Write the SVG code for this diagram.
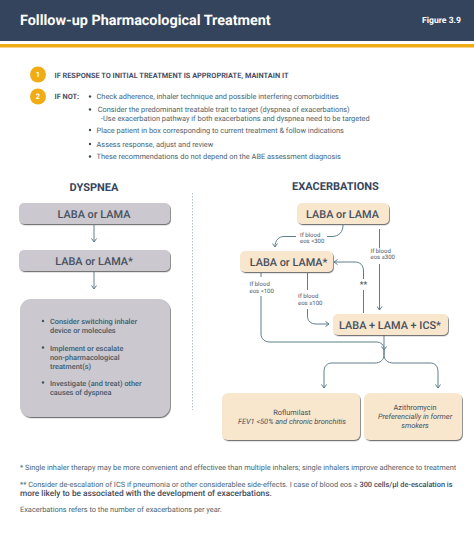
<svg xmlns="http://www.w3.org/2000/svg" width="474" height="533" viewBox="0 0 474 533">
<style>
text{font-family:Roboto,"Liberation Sans",sans-serif;fill:#44505f;text-rendering:geometricPrecision}
.h{font-size:11px;font-weight:700;fill:#34445c}
.n{font-size:10.9px;font-weight:500;fill:#46505e;text-anchor:middle}
.l{font-size:6px;fill:#4a5563}
.s{font-size:7.35px;font-weight:500;fill:#3e5a68}
.f{font-size:7.4px;fill:#4b6570}
.g{font-size:7.4px;fill:#4b6570}
.d{font-size:7.4px;fill:#46505e;text-anchor:middle}
.gray{fill:#cbc8d0;filter:url(#sh)}
.peach{fill:#f8e6cd;filter:url(#sh)}
.c{fill:none;stroke:#5d7f8c;stroke-width:1;marker-end:url(#ar)}
.p{fill:none;stroke:#5d7f8c;stroke-width:1}
</style>
<defs>
<filter id="sh" x="-10%" y="-20%" width="120%" height="150%"><feDropShadow dx="0.8" dy="1.2" stdDeviation="0.7" flood-color="#555" flood-opacity="0.8"/></filter>
<marker id="ar" markerWidth="6" markerHeight="6" refX="4.5" refY="3" orient="auto" markerUnits="userSpaceOnUse"><path d="M1 0.5 L4.5 3 L1 5.5" fill="none" stroke="#5d7f8c" stroke-width="1"/></marker>
</defs>
<g id="header">
<rect width="474" height="41" fill="#34445c"/>
<rect y="44" width="474" height="3.5" fill="#f0ab15"/>
<text x="20" y="25" font-size="14.4" font-weight="700" style="fill:#fff">Folllow-up Pharmacological Treatment</text>
<text x="461" y="22.500" font-size="8.6" font-weight="700" text-anchor="end" style="fill:#fff">Figure 3.9</text>
</g>
<g id="steps">
<circle cx="38" cy="74.500" r="8" fill="#f0ab15"/><text x="38" y="77.300" font-size="7.500" font-weight="700" text-anchor="middle" style="fill:#fff">1</text>
<circle cx="38" cy="96.500" r="8" fill="#f0ab15"/><text x="38" y="99.300" font-size="7.500" font-weight="700" text-anchor="middle" style="fill:#fff">2</text>
<text x="54.500" y="77.500" font-size="7.360" font-weight="700" style="fill:#4a5066">IF RESPONSE TO INITIAL TREATMENT IS APPROPRIATE, MAINTAIN IT</text>
<text x="54.500" y="99" font-size="7.360" font-weight="700" style="fill:#4a5066">IF NOT:</text>
<g fill="#3c4a58">
<circle cx="90" cy="96.500" r="1.200"/><circle cx="90" cy="109.500" r="1.200"/><circle cx="90" cy="130" r="1.200"/><circle cx="90" cy="144" r="1.200"/><circle cx="90" cy="156.500" r="1.200"/>
</g>
<text class="f" x="96.500" y="98.800">Check adherence, inhaler technique and possible interfering comorbidities</text>
<text class="f" x="97.700" y="112">Consider the predominant treatable trait to target (dyspnea of exacerbations)</text>
<text class="f" x="101" y="121">-Use exacerbation pathway if both exacerbations and dyspnea need to be targeted</text>
<text class="f" x="96.500" y="132.700">Place patient in box corresponding to current treatment &amp; follow indications</text>
<text class="f" x="96.500" y="146.700">Assess response, adjust and review</text>
<text class="f" x="96.500" y="159.300">These recommendations do not depend on the ABE assessment diagnosis</text>
</g>
<text class="h" x="94" y="190.500" text-anchor="middle">DYSPNEA</text>
<text class="h" x="335.500" y="190" text-anchor="middle">EXACERBATIONS</text>
<line x1="192.500" y1="193" x2="192.500" y2="410" stroke="#9fb0b5" stroke-width="0.800" stroke-dasharray="1.500 1.500"/>
<g id="connectors">
<path class="c" d="M94 225V242"/>
<path class="c" d="M94 272V289"/>
<path class="p" d="M343 225C343 232 339 236.500 332 236.500H327"/>
<path class="c" d="M296 236.500H284C279 236.500 275 240 275 247"/>
<path class="p" d="M379.500 229V248"/>
<path class="c" d="M379.500 264V310"/>
<path class="p" d="M363.500 313V290"/>
<path class="c" d="M363.500 279V271C363.500 265 360 262 355 262H334"/>
<path class="p" d="M261 273V277"/>
<path class="p" d="M261 296V334C261 339 265 342 270 342H376C381 342 384 345 384 349"/>
<path class="p" d="M307.500 273V290"/>
<path class="c" d="M307.500 309V316C307.500 321 311 324 316 324H329"/>
<path class="c" d="M384 335V350"/>
<path class="c" d="M384 350V355C384 360 380 363 375 363H332C327 363 324 366 324 372V388"/>
<path class="c" d="M384 350V355C384 360 388 363 393 363H430C435 363 438 366 438 372V388"/>
</g>
<g id="node-dyspnea-1"><rect class="gray" x="19" y="203" width="151" height="21" rx="5"/><text class="n" x="94" y="218">LABA or LAMA</text></g>
<g id="node-dyspnea-2"><rect class="gray" x="19" y="250" width="151" height="21" rx="5"/><text class="n" x="94" y="265">LABA or LAMA*</text></g>
<g id="node-dyspnea-3"><rect class="gray" x="20" y="299" width="150" height="118" rx="11"/>
<g fill="#3c5562"><circle cx="43" cy="321" r="1.200"/><circle cx="43" cy="347.500" r="1.200"/><circle cx="43" cy="382.500" r="1.200"/></g>
<text class="s" x="50" y="324">Consider switching inhaler</text>
<text class="s" x="50" y="333">device or molecules</text>
<text class="s" x="50" y="350.500">Implement or escalate</text>
<text class="s" x="50" y="359.500">non-pharmacological</text>
<text class="s" x="50" y="368.500">treatment(s)</text>
<text class="s" x="50" y="386">Investigate (and treat) other</text>
<text class="s" x="50" y="395">causes of dyspnea</text>
</g>
<g id="node-ex-1"><rect class="peach" x="297" y="203" width="92" height="21" rx="5"/><text class="n" x="342.500" y="218">LABA or LAMA</text></g>
<g id="node-ex-2"><rect class="peach" x="240" y="251" width="93" height="21" rx="5"/><text class="n" x="288.500" y="266">LABA or LAMA*</text></g>
<g id="node-ex-3"><rect class="peach" x="333" y="314" width="115" height="21" rx="5"/><text class="n" x="390" y="328.500">LABA + LAMA  + ICS*</text></g>
<g id="node-ex-4"><rect class="peach" x="222" y="393" width="138" height="47" rx="6"/><text class="d" x="292" y="414.500">Roflumilast</text><text class="d" x="292" y="423.500" font-style="italic">FEV1 &lt;50% and chronic bronchitis</text></g>
<g id="node-ex-5"><rect class="peach" x="364" y="393" width="98" height="47" rx="6"/><text class="d" x="415" y="409.500">Azithromycin</text><text class="d" x="415" y="418.500" font-style="italic">Preferencially in former</text><text class="d" x="415" y="427.500" font-style="italic">smokers</text></g>
<g id="connector-labels">
<text class="l" x="300" y="236.500">If blood</text><text class="l" x="300" y="242.500">eos &lt;300</text>
<text class="l" x="370.500" y="252.500">If blood</text><text class="l" x="370.500" y="259">eos ≥300</text>
<text class="l" x="249.500" y="286">If blood</text><text class="l" x="249.500" y="293">eos &lt;100</text>
<text class="l" x="298" y="298">If blood</text><text class="l" x="298" y="305">eos ≥100</text>
<text x="363.500" y="287" font-size="8" font-weight="700" text-anchor="middle">**</text>
</g>
<g id="footnotes">
<text class="g" x="20" y="469.500">*  Single inhaler therapy may be more convenient and effectivee than multiple inhalers; single inhalers improve adherence to treatment</text>
<text class="g" x="20" y="487">** Consider de-escalation of ICS if pneumonia or other considerablee side-effects. I case of blood eos ≥ <tspan font-weight="500" style="fill:#3f4a5a">300 cells/µl de-escalation is</tspan></text>
<text x="20" y="496" font-size="8.300" font-weight="500" style="fill:#3f4a5a">more likely to be associated with the development of exacerbations.</text>
<text class="g" x="20" y="512">Exacerbations refers to the number of exacerbations per year.</text>
</g>
</svg>
